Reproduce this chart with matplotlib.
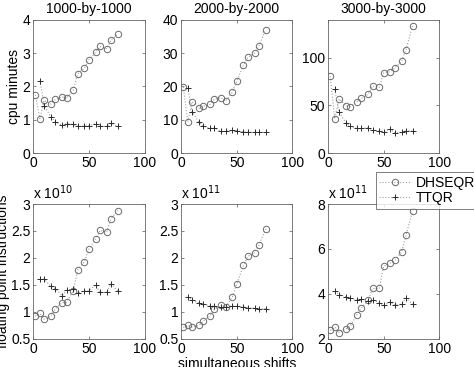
import matplotlib
matplotlib.use('Agg')
import matplotlib.pyplot as plt

plt.rcParams['font.family'] = ['Liberation Sans', 'DejaVu Sans']
plt.rcParams['font.size'] = 10

# simultaneous shifts
shifts = [2, 6, 10, 16, 20, 26, 30, 36, 40, 46, 50, 56, 60, 66, 70, 76]
shifts_ttqr = shifts[1:]

titles = ['1000-by-1000', '2000-by-2000', '3000-by-3000']

# cpu minutes
cpu_dhseqr_1000 = [1.75, 1.03, 1.58, 1.47, 1.61, 1.69, 1.64, 1.89, 2.38, 2.55, 2.80, 3.02, 3.20, 3.13, 3.40, 3.57]
cpu_ttqr_1000 = [2.17, 1.42, 1.08, 0.94, 0.83, 0.88, 0.86, 0.80, 0.82, 0.82, 0.88, 0.80, 0.80, 0.90, 0.80]
cpu_dhseqr_2000 = [19.9, 9.4, 15.4, 13.4, 14.1, 14.6, 16.2, 16.6, 15.6, 18.2, 21.6, 26.4, 28.7, 30.0, 32.2, 37.0]
cpu_ttqr_2000 = [19.6, 12.4, 9.2, 8.0, 7.5, 7.5, 6.5, 6.5, 6.8, 6.7, 6.4, 6.3, 6.2, 6.2, 6.2]
cpu_dhseqr_3000 = [80.8, 35.9, 56.8, 49.8, 48.8, 54.0, 57.5, 61.7, 70.4, 69.0, 84.3, 85.4, 89.5, 96.2, 108.7, 134.0]
cpu_ttqr_3000 = [66.9, 42.9, 32.0, 27.9, 25.8, 25.8, 26.8, 24.0, 23.3, 22.3, 25.0, 21.0, 21.6, 23.3, 23.3]

# floating point instructions (scaled: x 1e10, x 1e11, x 1e11)
flop_dhseqr_1000 = [0.92, 0.97, 0.86, 0.92, 1.06, 1.17, 1.18, 1.39, 1.78, 1.93, 2.16, 2.35, 2.51, 2.48, 2.73, 2.88]
flop_ttqr_1000 = [1.61, 1.60, 1.47, 1.43, 1.30, 1.40, 1.43, 1.35, 1.39, 1.39, 1.50, 1.36, 1.36, 1.52, 1.38]
flop_dhseqr_2000 = [0.71, 0.75, 0.71, 0.75, 0.83, 0.92, 1.05, 1.12, 1.08, 1.28, 1.52, 1.86, 2.03, 2.10, 2.24, 2.54]
flop_ttqr_2000 = [1.28, 1.22, 1.16, 1.14, 1.11, 1.10, 1.09, 1.08, 1.11, 1.10, 1.09, 1.07, 1.07, 1.05, 1.06]
flop_dhseqr_3000 = [2.37, 2.52, 2.27, 2.44, 2.56, 3.07, 3.37, 3.71, 4.24, 4.24, 5.23, 5.38, 5.49, 5.85, 6.60, 7.70]
flop_ttqr_3000 = [4.12, 3.97, 3.87, 3.80, 3.73, 3.76, 3.66, 3.73, 3.61, 3.49, 3.64, 3.49, 3.54, 3.80, 3.54]

flop_exponents = ['10', '11', '11']

cpu_dh = [cpu_dhseqr_1000, cpu_dhseqr_2000, cpu_dhseqr_3000]
cpu_tt = [cpu_ttqr_1000, cpu_ttqr_2000, cpu_ttqr_3000]
flop_dh = [flop_dhseqr_1000, flop_dhseqr_2000, flop_dhseqr_3000]
flop_tt = [flop_ttqr_1000, flop_ttqr_2000, flop_ttqr_3000]

cpu_ylims = [(0, 4), (0, 40), (0, 140)]
cpu_yticks = [[0, 1, 2, 3, 4], [0, 10, 20, 30, 40], [0, 50, 100]]
flop_ylims = [(0.5, 3), (0.5, 3), (2, 8)]
flop_yticks = [[0.5, 1, 1.5, 2, 2.5, 3], [0.5, 1, 1.5, 2, 2.5, 3], [2, 4, 6, 8]]

fig = plt.figure(figsize=(4.74, 3.67), dpi=100)

lefts = [0.070, 0.382, 0.692]
width = 0.235
top_row = (0.583, 0.363)
bot_row = (0.077, 0.367)

circ_col = '#6a6a6a'
plus_col = '#2a2a2a'
line_col = '#a0a0a0'

dh_style = dict(linestyle=':', color=line_col, lw=0.8, marker='o', mfc='none',
                mec=circ_col, ms=4.6, mew=0.7)
tt_style = dict(linestyle=':', color=line_col, lw=0.8, marker='+', mec=plus_col,
                ms=5, mew=0.7)


def style(ax):
    ax.tick_params(direction='in', top=True, right=True, length=2.5, width=0.5,
                   colors='#555555', labelcolor='black', labelsize=10, pad=2)
    for s in ax.spines.values():
        s.set_linewidth(0.6)
        s.set_color('#666666')
    ax.set_xlim(0, 100)
    ax.set_xticks([0, 50, 100])


for i in range(3):
    ax = fig.add_axes([lefts[i], top_row[0], width, top_row[1]])
    ax.plot(shifts, cpu_dh[i], **dh_style)
    ax.plot(shifts_ttqr, cpu_tt[i], **tt_style)
    style(ax)
    ax.set_ylim(*cpu_ylims[i])
    ax.set_yticks(cpu_yticks[i])
    ax.set_title(titles[i], fontsize=10, pad=5)
    if i == 0:
        ax.set_ylabel('cpu minutes', labelpad=1)

    ax2 = fig.add_axes([lefts[i], bot_row[0], width, bot_row[1]])
    l1, = ax2.plot(shifts, flop_dh[i], label='DHSEQR', **dh_style)
    l2, = ax2.plot(shifts_ttqr, flop_tt[i], label='TTQR', **tt_style)
    style(ax2)
    ax2.set_ylim(*flop_ylims[i])
    ax2.set_yticks(flop_yticks[i])
    ax2.set_yticklabels([('%g' % v) for v in flop_yticks[i]])
    ax2.text(0.0, 1.015, r'x 10$^{%s}$' % flop_exponents[i], transform=ax2.transAxes,
             fontsize=10, ha='left', va='bottom')
    if i == 0:
        ax2.set_ylabel('floating point instructions', labelpad=1)
    if i == 1:
        ax2.set_xlabel('simultaneous shifts', labelpad=1)

leg = fig.legend([l1, l2], ['DHSEQR', 'TTQR'], loc='upper left',
                 bbox_to_anchor=(0.793, 0.530), fontsize=10, frameon=True,
                 fancybox=False, handlelength=2.2, handletextpad=0.4,
                 borderpad=0.25, labelspacing=0.1, borderaxespad=0)
leg.get_frame().set_edgecolor('#444444')
leg.get_frame().set_linewidth(0.6)

fig.savefig('out.png', dpi=100)
